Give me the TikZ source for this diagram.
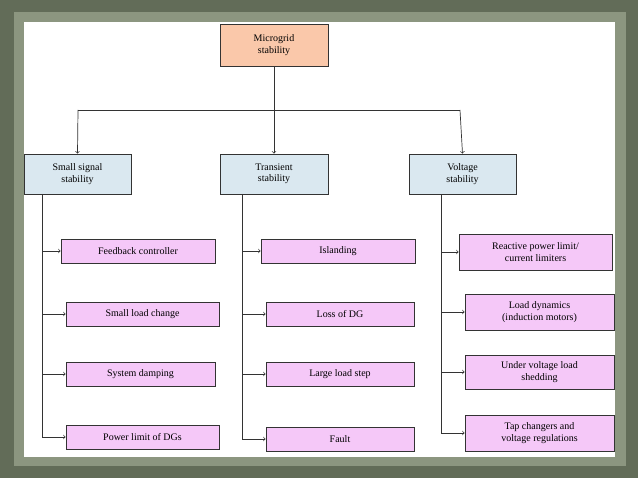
\documentclass[tikz,border=0pt]{standalone}
\usepackage{fontspec}
\setmainfont{Liberation Serif}
\definecolor{bgA}{RGB}{98,108,88}
\definecolor{bgB}{RGB}{140,150,128}
\definecolor{cTop}{RGB}{250,200,170}
\definecolor{cMid}{RGB}{218,232,240}
\definecolor{cLeaf}{RGB}{245,200,248}
\begin{document}
\begin{tikzpicture}[x=1pt,y=-1pt,
  bx/.style={draw=black!80,line width=0.8pt,align=center,font=\fontsize{10}{11.5}\selectfont,inner sep=0pt},
  top/.style={bx,fill=cTop},
  mid/.style={bx,fill=cMid},
  leaf/.style={bx,fill=cLeaf},
  ln/.style={draw=black!80,line width=0.7pt},
  ar/.style={ln,->,>=to}]
\fill[bgA] (0,0) rectangle (638,478);
\fill[bgB] (14,12) rectangle (626,466);
\fill[white] (24,22) rectangle (615,457);
\useasboundingbox (0,0) rectangle (638,478);
\node[top,minimum width=108pt,minimum height=42pt] (m) at (274,45) {Microgrid\\stability};
\node[mid,minimum width=107pt,minimum height=40pt] (s) at (77.5,174) {Small signal\\stability};
\node[mid,minimum width=108pt,minimum height=40pt] (t) at (274,174) {Transient\\stability};
\node[mid,minimum width=107pt,minimum height=40pt] (v) at (462.5,174) {Voltage\\stability};
\coordinate (hl) at (78,110); \coordinate (hr) at (460,110); \coordinate (hc) at (274,110);
\draw[ln] (m.south) -- (hc);
\draw[ln] (hl) -- (hr);
\draw[ar] (hl) -- (s.north);
\draw[ar] (hc) -- (t.north);
\draw[ar] (hr) -- (v.north);
% left
\node[leaf,minimum width=154pt,minimum height=24pt] (a1) at (138,251) {Feedback controller};
\node[leaf,minimum width=153pt,minimum height=24pt] (a2) at (142.5,314) {Small load change};
\node[leaf,minimum width=149pt,minimum height=24pt] (a3) at (140.5,374) {System damping};
\node[leaf,minimum width=153pt,minimum height=24pt] (a4) at (142.5,437) {Power limit of DGs};
\draw[ln] (42,194) -- (42,437);
\foreach \n in {a1,a2,a3,a4} \draw[ar] (\n.west -| 42,0) -- (\n.west);
% middle
\node[leaf,minimum width=154pt,minimum height=24pt] (b1) at (338,251) {Islanding};
\node[leaf,minimum width=148pt,minimum height=24pt] (b2) at (340,314) {Loss of DG};
\node[leaf,minimum width=148pt,minimum height=24pt] (b3) at (340,374) {Large load step};
\node[leaf,minimum width=148pt,minimum height=24pt] (b4) at (340,439) {Fault};
\draw[ln] (242,194) -- (242,439);
\foreach \n in {b1,b2,b3,b4} \draw[ar] (\n.west -| 242,0) -- (\n.west);
% right
\node[leaf,minimum width=153pt,minimum height=36pt] (c1) at (535.5,252) {Reactive power limit/\\current limiters};
\node[leaf,minimum width=149pt,minimum height=36pt] (c2) at (539.5,312) {Load dynamics\\(induction motors)};
\node[leaf,minimum width=149pt,minimum height=34pt] (c3) at (539.5,372) {Under voltage load\\shedding};
\node[leaf,minimum width=149pt,minimum height=36pt] (c4) at (539.5,433) {Tap changers and\\voltage regulations};
\draw[ln] (441,194) -- (441,433);
\foreach \n in {c1,c2,c3,c4} \draw[ar] (\n.west -| 441,0) -- (\n.west);
\end{tikzpicture}
\end{document}
